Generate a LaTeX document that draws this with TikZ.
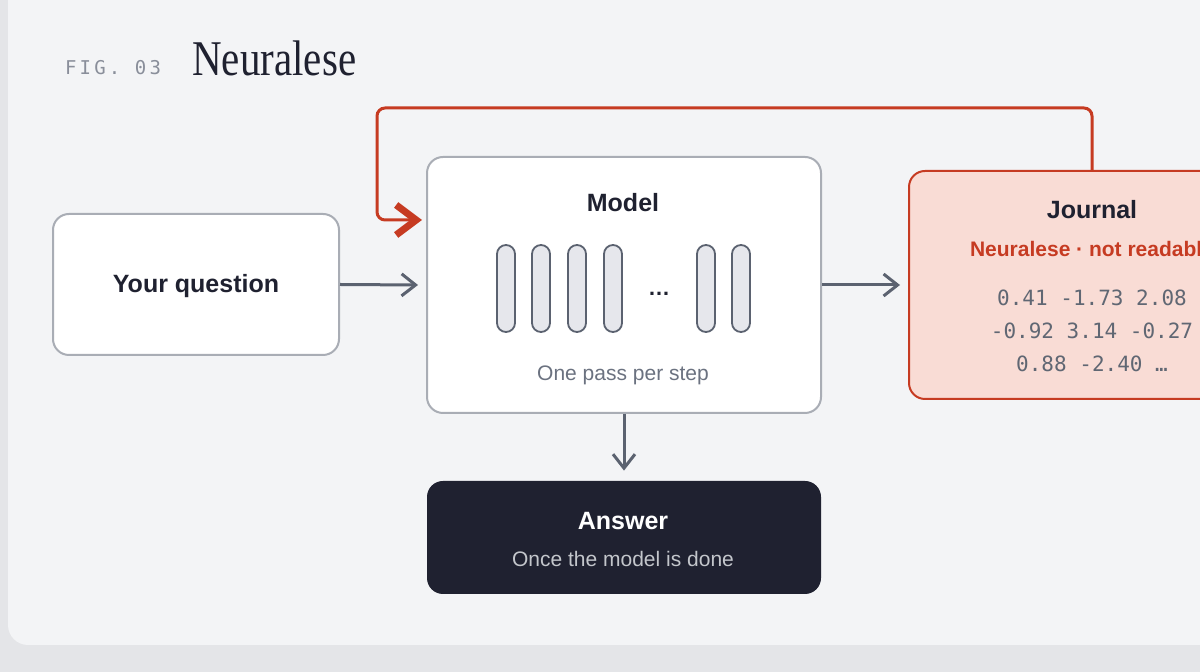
\documentclass[tikz,border=0pt]{standalone}
\usepackage{fontspec}
\setmainfont{Liberation Sans}
\setmonofont{DejaVu Sans Mono}
\newfontfamily\titlefont{Liberation Serif}
\usetikzlibrary{arrows.meta}
\definecolor{outer}{HTML}{E4E5E8}
\definecolor{panel}{HTML}{F3F4F6}
\definecolor{edge}{HTML}{A9ADB5}
\definecolor{ink}{HTML}{1F2130}
\definecolor{arr}{HTML}{5B6270}
\definecolor{muted}{HTML}{6B7280}
\definecolor{red}{HTML}{C63B22}
\definecolor{pink}{HTML}{F9DCD5}
\definecolor{pill}{HTML}{E6E7EC}
\begin{document}
\begin{tikzpicture}[x=0.5pt,y=-0.5pt,
  box/.style={draw=edge,line width=1pt,fill=white,rounded corners=8pt,inner sep=0pt},
  flow/.style={draw=arr,line width=1.5pt,-{Straight Barb[length=7pt,width=11pt,line width=1.5pt]}},
  bar/.style={draw=arr,line width=0.9pt,fill=pill,rounded corners=4.5pt,minimum width=9pt,minimum height=43.5pt,inner sep=0pt},
  head/.style={font=\bfseries\fontsize{12.5pt}{14pt}\selectfont,text=ink}]
\useasboundingbox (0,0) rectangle (1200,672);
\fill[outer] (0,0) rectangle (1200,672);
\fill[panel,rounded corners=10pt] (8,-30) rectangle (1240,645);
\begin{scope}
\clip (0,0) rectangle (1200,672);
\node[anchor=base west,text=muted!80,font=\ttfamily\fontsize{9.5pt}{10pt}\selectfont] (fig) at (58,75) {F\,I\,G\,.\,\ 0\,3};
\node[anchor=base west,text=ink,font=\titlefont\fontsize{25pt}{26pt}\selectfont,xscale=0.82,inner sep=0pt] (title) at (192,76) {Neuralese};
\node[box,minimum width=143pt,minimum height=70.5pt] (q) at (196,284.5) {};
\node[head] (qt) at (196,286) {Your question};
\node[box,minimum width=197pt,minimum height=128pt] (m) at (624,285) {};
\node[head] (mt) at (623,203) {Model};
\foreach \x/\n in {506/a,541/b,577/c,613/d,706/e,741/f} \node[bar] (p\n) at (\x,288.5) {};
\node[font=\bfseries\fontsize{11pt}{12pt}\selectfont,text=ink] (dots) at (659,294) {…};
\node[font=\fontsize{10.5pt}{12pt}\selectfont,text=muted] (ms) at (623,375) {One pass per step};
\node[fill=ink,rounded corners=8pt,minimum width=197pt,minimum height=56.5pt] (ans) at (624,537.5) {};
\node[head,text=white] (at) at (623,521) {Answer};
\node[font=\fontsize{10.5pt}{12pt}\selectfont,text=edge!70!white] (as) at (623,559) {Once the model is done};
\node[draw=red,line width=1pt,fill=pink,rounded corners=8pt,minimum width=183pt,minimum height=114pt] (j) at (1092,285) {};
\node[head] (jt) at (1092,210) {Journal};
\node[font=\bfseries\fontsize{10.5pt}{12pt}\selectfont,text=red] (js) at (1092,249) {Neuralese · not readable};
\node[font=\ttfamily\fontsize{10.5pt}{16.5pt}\selectfont,text=muted!90!black,align=center] (jn) at (1092,331) {0.41 -1.73 2.08 \\ -0.92 3.14 -0.27 \\ 0.88 -2.40 …};
\draw[flow] (q.east) -- ([xshift=-4pt]m.west);
\draw[flow] (m.east) -- ([xshift=-4pt]j.west);
\draw[flow] (m.south) -- ([yshift=5pt]ans.north);
\coordinate (c1) at (1092,108);
\coordinate (c2) at (377,108);
\coordinate (c3) at (377,220);
\draw[red,line width=1.5pt,rounded corners=4pt,-{Straight Barb[length=10pt,width=15pt,line width=3.5pt]}] (j.north) -- (c1) -- (c2) -- (c3) -- ([xshift=-2pt]m.west |- c3);
\end{scope}
\end{tikzpicture}
\end{document}
